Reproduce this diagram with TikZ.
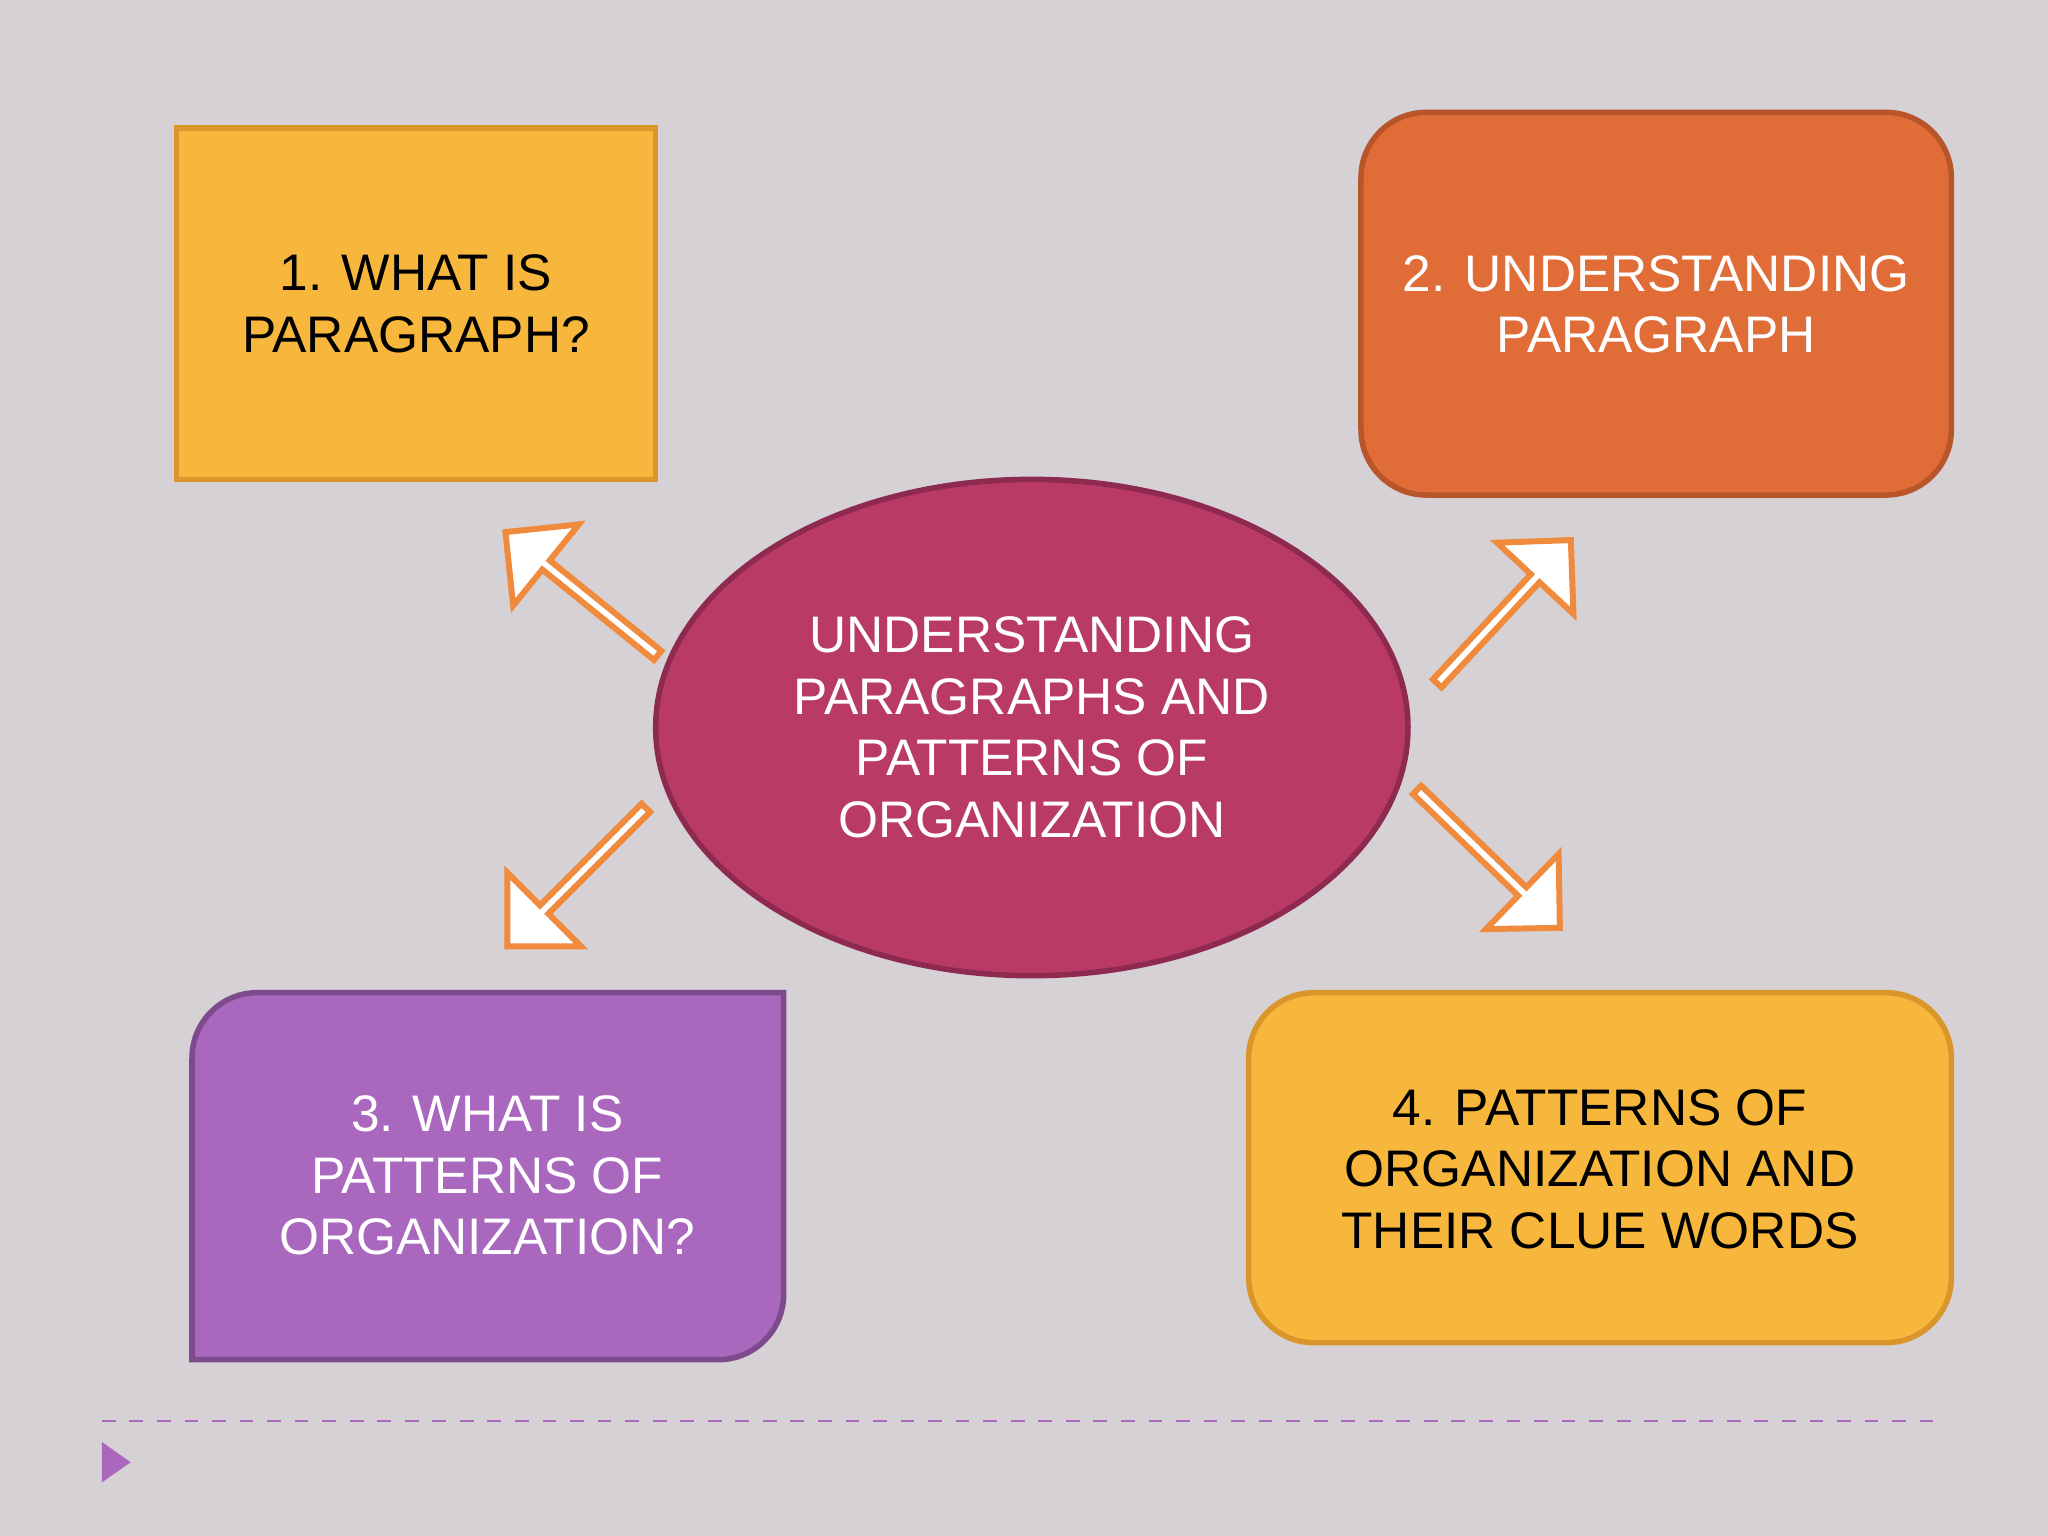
\documentclass[tikz,border=0pt]{standalone}
\usepackage{fontspec}
\setmainfont{Liberation Sans}
\usetikzlibrary{shapes.geometric,shapes.arrows}
\definecolor{bg}{HTML}{D6D1D4}
\definecolor{yel}{HTML}{F6B73C}
\definecolor{yelb}{HTML}{D9962A}
\definecolor{ora}{HTML}{E06C37}
\definecolor{orab}{HTML}{B8552A}
\definecolor{pur}{HTML}{A967BD}
\definecolor{purb}{HTML}{7E4A8E}
\definecolor{mag}{HTML}{B83A65}
\definecolor{magb}{HTML}{8E2A50}
\definecolor{arr}{HTML}{F08A3C}
\begin{document}
\begin{tikzpicture}[x=0.1mm,y=-0.1mm,
  txt/.style={align=center,font=\fontsize{11.2}{13.4}\selectfont},
  box/.style={txt,draw,line width=1.2pt,inner sep=0pt},
  barrow/.style={single arrow,draw=arr,fill=white,line width=1.3pt,
    minimum width=8mm,single arrow head extend=1.8mm,inner sep=0pt,anchor=center}]
\fill[bg] (0,0) rectangle (1568,1176);
\useasboundingbox (0,0) rectangle (1568,1176);
\node[box,fill=yel,draw=yelb,minimum width=36.7mm,minimum height=26.9mm] (b1) at (318.5,232.5) {1. WHAT IS\\PARAGRAPH?};
\node[box,fill=ora,draw=orab,text=white,rounded corners=5mm,minimum width=45.2mm,minimum height=29.3mm] (b2) at (1268,232.5) {};
\node[txt,text=white] at (1268,233) {2. UNDERSTANDING\\PARAGRAPH};
\filldraw[fill=pur,draw=purb,line width=1.2pt] (147,1041) -- (147,810) arc (180:270:50) -- (600,760) -- (600,991) arc (0:90:50) -- cycle;
\node[txt,text=white] (b3) at (373,900) {3. WHAT IS\\PATTERNS OF\\ORGANIZATION?};
\node[box,fill=yel,draw=yelb,rounded corners=5mm,minimum width=53.8mm,minimum height=26.8mm] (b4) at (1225,894) {};
\node[txt] at (1225,895) {4. PATTERNS OF\\ORGANIZATION AND\\THEIR CLUE WORDS};
\node[ellipse,draw=magb,fill=mag,line width=1.2pt,minimum width=57.6mm,minimum height=38mm,inner sep=0pt] (c) at (790,557) {};
\node[txt,text=white] at (790,557) {UNDERSTANDING\\PARAGRAPHS AND\\PATTERNS OF\\ORGANIZATION};
\node[barrow,rotate=141,minimum height=15mm] (a1) at (447,456) {};
\node[barrow,rotate=47,minimum height=15mm] (a2) at (1150,470) {};
\node[barrow,rotate=225,minimum height=15mm] (a3) at (443,670) {};
\node[barrow,rotate=-44,minimum height=15.2mm] (a4) at (1138,656) {};
\draw[pur,dashed,line width=0.6pt] (78,1088) -- (1490,1088);
\fill[pur] (78,1104) -- (78,1135) -- (100,1119.5) -- cycle;
\end{tikzpicture}
\end{document}
